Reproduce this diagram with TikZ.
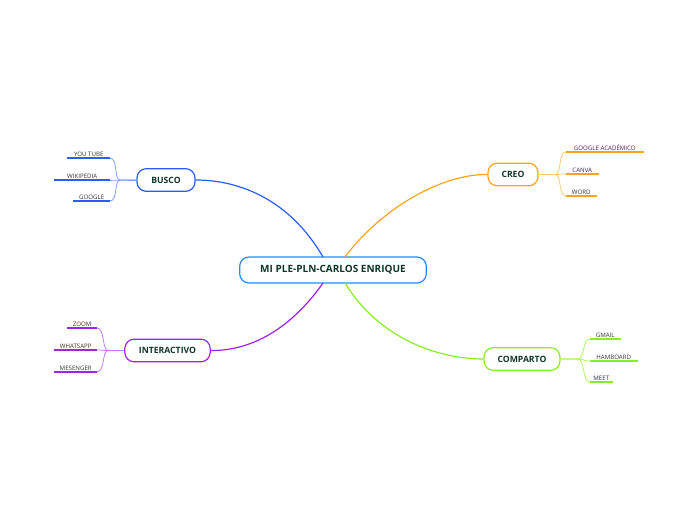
\documentclass[tikz,border=0pt]{standalone}
\usepackage{fontspec}
\setmainfont{Open Sans}
\begin{document}
\begin{tikzpicture}[x=0.75pt,y=-0.75pt,
  box/.style={draw=#1,rounded corners=7pt,line width=0.9pt,fill=white,text=txt,font=\bfseries\fontsize{6.5}{7}\selectfont,inner sep=0pt,minimum height=17pt},
  leafl/.style={anchor=south east,font=\fontsize{4.6}{5}\selectfont,text=black!80,inner sep=1.2pt,align=center},
  leafr/.style={anchor=south west,font=\fontsize{4.6}{5}\selectfont,text=black!80,inner sep=1.2pt,align=left},
  ul/.style={draw=#1,line width=1.2pt},
  br/.style={draw=#1,line width=0.6pt}]
\definecolor{txt}{HTML}{10362A}
\definecolor{cb}{HTML}{2A5CFF}
\definecolor{co}{HTML}{FFA31A}
\definecolor{cp}{HTML}{A020F0}
\definecolor{cg}{HTML}{88EE22}
\useasboundingbox (0,0) rectangle (697,520);
\node[box=cb!70!cyan,minimum width=140pt,font=\bfseries\fontsize{7.5}{8}\selectfont,minimum height=19.5pt] (c) at (333,270) {MI PLE-PLN-CARLOS ENRIQUE};
\node[box=cb,minimum width=43.5pt] (b) at (166,180) {BUSCO};
\node[box=co,minimum width=37.5pt] (cr) at (513,174.5) {CREO};
\node[box=cp,minimum width=64pt] (i) at (167.5,350.5) {INTERACTIVO};
\node[box=cg,minimum width=57pt] (cp2) at (522,359) {COMPARTO};
\draw[cb,line width=0.9pt] (323,257) .. controls (290,200) and (240,180) .. (b.east);
\draw[co,line width=0.9pt] (345,257) .. controls (380,210) and (440,174) .. (cr.west);
\draw[cp,line width=0.9pt] (323,283) .. controls (290,330) and (250,351) .. (i.east);
\draw[cg,line width=0.9pt] (345,283) .. controls (380,340) and (440,359) .. (cp2.west);
% BUSCO leaves
\foreach \n/\t/\x/\y in {b1/YOU TUBE/68/158,b2/WIKIPEDIA/55/180,b3/GOOGLE/74/201}{
  \node[leafl,minimum width={(110-\x)*0.75pt}] (\n) at (110,\y) {\t};
  \draw[ul=cb] (\n.south west) -- (\n.south east);
  \draw[br=cb!60] (b.west) -- (120,180) .. controls (114,180) and (118,\y) .. (\n.south east);}
% INTERACTIVO leaves
\foreach \n/\t/\x/\y in {i1/ZOOM/68/328,i2/WHATSAPP/55/350,i3/MESENGER/55/372}{
  \node[leafl,minimum width={(97-\x)*0.75pt}] (\n) at (97,\y) {\t};
  \draw[ul=cp] (\n.south west) -- (\n.south east);
  \draw[br=cp!60] (i.west) -- (108,350.5) .. controls (102,350.5) and (105,\y) .. (\n.south east);}
% CREO leaves
\foreach \n/\t/\x/\y in {c1/GOOGLE ACADÉMICO/643/152,c2/CANVA/598/174,c3/WORD/596/196}{
  \node[leafr,minimum width={(\x-566)*0.75pt}] (\n) at (566,\y) {\t};
  \draw[ul=co] (\n.south west) -- (\n.south east);
  \draw[br=co!60] (cr.east) -- (555,174.5) .. controls (562,174.5) and (558,\y) .. (\n.south west);}
% COMPARTO leaves
\foreach \n/\t/\x/\y in {g1/GMAIL/620/339,g2/HAMBOARD/637/361,g3/MEET/612/382}{
  \node[leafr,minimum width={(\x-590)*0.75pt}] (\n) at (590,\y) {\t};
  \draw[ul=cg] (\n.south west) -- (\n.south east);
  \draw[br=cg!70] (cp2.east) -- (578,359) .. controls (585,359) and (582,\y) .. (\n.south west);}
\end{tikzpicture}
\end{document}
